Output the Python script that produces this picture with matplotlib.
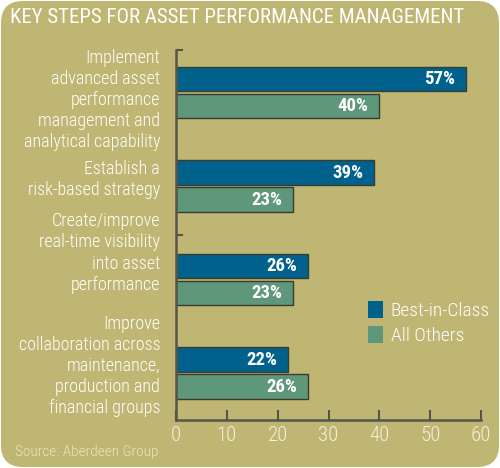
import matplotlib
matplotlib.use('Agg')
import matplotlib.pyplot as plt
import numpy as np
from matplotlib.patches import FancyBboxPatch, Patch
from matplotlib.transforms import IdentityTransform, blended_transform_factory

# veriler
categories = [
    'Implement\nadvanced asset\nperformance\nmanagement and\nanalytical capability',
    'Establish a\nrisk-based strategy',
    'Create/improve\nreal-time visibility\ninto asset\nperformance',
    'Improve\ncollaboration across\nmaintenance,\nproduction and\nfinancial groups',
]
best_in_class = [57, 39, 26, 22]
all_others = [40, 23, 23, 26]
series_names = ['Best-in-Class', 'All Others']
x_ticks = [0, 10, 20, 30, 40, 50, 60]

# renkler
bg = '#c0b674'
blue = '#00628c'
green = '#5f977a'
edge = '#3b3b30'
light = '#f3efdc'

plt.rcParams['font.family'] = ['Roboto Condensed', 'DejaVu Sans']

fig = plt.figure(figsize=(5, 4.68), dpi=100, facecolor='white')
box = FancyBboxPatch((1, 1), 498, 466, boxstyle='round,pad=0,rounding_size=22',
                     transform=IdentityTransform(), facecolor=bg, edgecolor='none', zorder=-10)
fig.add_artist(box)

ax = fig.add_axes([0.352, 0.1026, 0.61, 0.7906])
ax.set_facecolor('none')

y = np.arange(len(categories))
h = 0.262
off = 0.144
b1 = ax.barh(y - off, best_in_class, height=h, color=blue, edgecolor=edge, linewidth=1)
b2 = ax.barh(y + off, all_others, height=h, color=green, edgecolor=edge, linewidth=1)

# değer etiketleri
for bars, vals in [(b1, best_in_class), (b2, all_others)]:
    for r, v in zip(bars, vals):
        ax.text(v - 2.1, r.get_y() + r.get_height() / 2, f'{v}%', ha='right', va='center',
                color='white', fontsize=13.5, fontweight='bold')

ax.set_xlim(0, 60)
ax.set_ylim(3.50, -0.456)
ax.set_xticks(x_ticks)
ax.set_xticklabels([str(t) for t in x_ticks], color=light, fontsize=15, fontweight='light')
ax.set_yticks([-0.456, 1.522])
ax.set_yticklabels([])
ax.tick_params(axis='x', direction='in', length=7, width=1.5, color='#55554a', pad=4)
ax.tick_params(axis='y', direction='in', length=5, width=1.5, color='#55554a')
for s in ['top', 'right']:
    ax.spines[s].set_visible(False)
for s in ['left', 'bottom']:
    ax.spines[s].set_color('#55554a')
    ax.spines[s].set_linewidth(1.8)

# kategori etiketleri
label_shift = [0.08, -0.076, -0.285, -0.076]
tr = blended_transform_factory(ax.transAxes, ax.transData)
for i, (lab, sh) in enumerate(zip(categories, label_shift)):
    ax.text(-0.052, i + sh, lab, transform=tr, ha='right', va='center',
            color='white', fontsize=13, linespacing=1.22, fontweight='light')

handles = [Patch(facecolor=blue, edgecolor='none'), Patch(facecolor=green, edgecolor='none')]
leg = ax.legend(handles, series_names, loc='upper left', bbox_to_anchor=(0.628, 0.322),
                frameon=False, handlelength=0.8, handleheight=1.0,
                handletextpad=0.4, labelspacing=0.3, borderaxespad=0, borderpad=0,
                prop={'size': 14, 'weight': 'light'})
for t in leg.get_texts():
    t.set_color('white')

fig.text(0.02, 0.962, 'KEY STEPS FOR ASSET PERFORMANCE MANAGEMENT', color='white',
         fontsize=15, va='center', ha='left')
fig.text(0.03, 0.034, 'Source: Aberdeen Group', color='#e8e3c2', fontsize=11,
         va='center', ha='left', fontweight='light')

fig.savefig('out.png', dpi=100, facecolor='white')
